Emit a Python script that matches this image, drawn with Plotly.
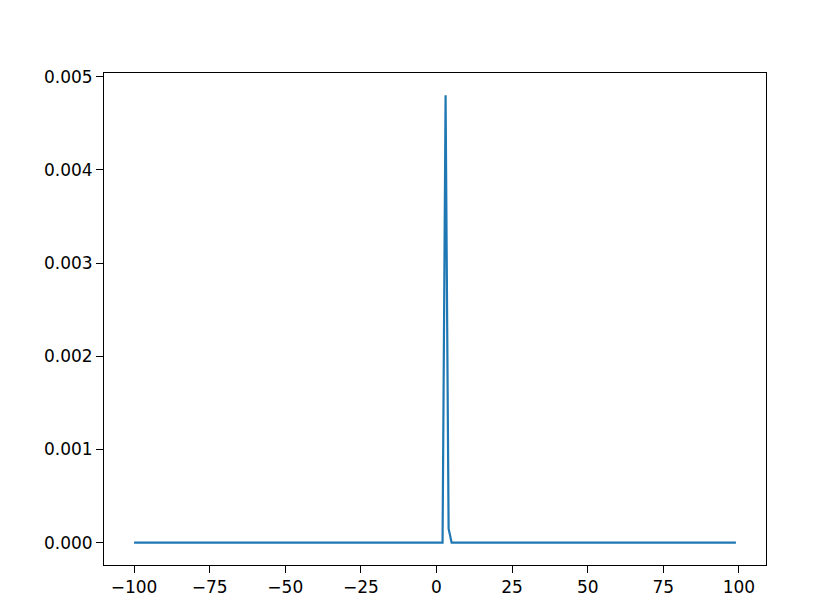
import plotly.graph_objects as go

x_values = list(range(-100, 100))
y_values = [0.0] * 103 + [0.0048, 0.00015] + [0.0] * 95

x_ticks = [-100, -75, -50, -25, 0, 25, 50, 75, 100]
y_ticks = [0.000, 0.001, 0.002, 0.003, 0.004, 0.005]

fig = go.Figure()
fig.add_trace(go.Scatter(x=x_values, y=y_values, mode="lines",
                         line=dict(color="#1f77b4", width=2.2), showlegend=False))

axis_common = dict(showline=True, linecolor="black", linewidth=1, mirror=True,
                   ticks="outside", ticklen=7, tickwidth=1, tickcolor="black",
                   showgrid=False, zeroline=False,
                   tickfont=dict(family="DejaVu Sans", size=17, color="black"))

fig.update_xaxes(range=[-109.95, 108.95], tickvals=x_ticks, **axis_common)
fig.update_yaxes(range=[-0.00024, 0.00504], tickvals=y_ticks, tickformat=".3f", **axis_common)

fig.update_layout(width=820, height=608, margin=dict(l=96, r=62, t=65, b=51),
                  paper_bgcolor="white", plot_bgcolor="white")

fig.write_html("out.html")
